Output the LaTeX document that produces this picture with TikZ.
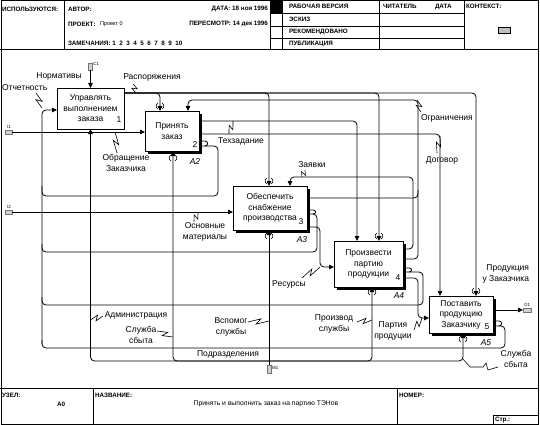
\documentclass[tikz,border=0pt]{standalone}
\usepackage{fontspec}
\setmainfont{Liberation Sans}
\usetikzlibrary{arrows.meta,calc,shadows}
\newcommand{\lblf}{\fontsize{8.5}{10.5}\selectfont}
\newcommand{\hdrf}{\fontsize{6.3}{7}\selectfont\bfseries}
\newcommand{\tinyf}{\fontsize{4.5}{5}\selectfont}
\newcommand{\tunmark}[2]{%
  \draw[line width=0.6pt] ({#1-2},{#2-3}) .. controls ({#1-4.5},{#2-1.5}) and ({#1-4.5},{#2+1.5}) .. ({#1-2},{#2+3});
  \draw[line width=0.6pt] ({#1+2},{#2-3}) .. controls ({#1+4.5},{#2-1.5}) and ({#1+4.5},{#2+1.5}) .. ({#1+2},{#2+3});}
\newcommand{\ostub}[3]{\draw[line width=0.8pt] (#1,#2) -- ({#1+3},#2) .. controls ({#1+6.5},#2) and ({#1+6.5},#3) .. ({#1+3},#3);}
\newcommand{\zzz}[2]{\draw[zz] (#1) -- ($(#1)!0.62!(#2)!2.5pt!90:(#2)$) -- ($(#1)!0.38!(#2)!2.5pt!-90:(#2)$) -- (#2);}
\begin{document}
\begin{tikzpicture}[x=1pt,y=-1pt,
 every node/.style={inner sep=0pt,outer sep=0pt},
 ln/.style={line width=0.8pt},
 arr/.style={line width=0.8pt,-{Triangle[length=5pt,width=4.5pt]}},
 conn/.style={rounded corners=4pt},
 act/.style={draw,line width=0.8pt,fill=white,align=center,font=\lblf},
 shad/.style={act,drop shadow={shadow xshift=3pt,shadow yshift=-3pt,fill=black,opacity=1}},
 lab/.style={font=\lblf,align=center},
 hdr/.style={font=\hdrf,anchor=west},
 tun/.style={draw=black!55,fill=black!18,line width=0.5pt},
 tl/.style={font=\tinyf},
 zz/.style={line width=0.6pt},
 num/.style={font=\lblf},
 nodeid/.style={font=\lblf\itshape}]
\useasboundingbox (0,0) rectangle (540,425);
% frame
\draw[line width=0.9pt] (1,0.5) rectangle (538,424);
% header
\draw[ln] (0,49) -- (538,49);
\draw[ln] (64,0) -- (64,49);
\draw[ln] (270,0) -- (270,49);
\fill (270,0) rectangle (282,13);
\draw[ln] (282,0) -- (282,49);
\draw[ln] (379,0) -- (379,49);
\draw[ln] (464,0) -- (464,49);
\foreach \yy in {13,26,38} \draw[ln] (270,\yy) -- (464,\yy);
\draw[line width=0.6pt,fill=black!25] (498,27) rectangle (510,33);
\node[hdr] (h1) at (2,9) {ИСПОЛЬЗУЮТСЯ:};
\node[hdr] (h2) at (68,9) {АВТОР:};
\node[hdr,anchor=east] (h3) at (268,9) {ДАТА: 18 ноя 1996};
\node[hdr] (h4) at (68,24) {ПРОЕКТ:};
\node[hdr,font=\fontsize{5.5}{6}\selectfont] (h5) at (100,24) {Проект 0};
\node[hdr,anchor=east] (h6) at (268,24) {ПЕРЕСМОТР: 14 дек 1996};
\node[hdr] (h7) at (68,43) {ЗАМЕЧАНИЯ: 1 \ 2 \ 3 \ 4 \ 5 \ 6 \ 7 \ 8 \ 9 \ 10};
\node[hdr] (h8) at (289,6.5) {РАБОЧАЯ ВЕРСИЯ};
\node[hdr] (h9) at (289,19.5) {ЭСКИЗ};
\node[hdr] (h10) at (289,32) {РЕКОМЕНДОВАНО};
\node[hdr] (h11) at (289,43.5) {ПУБЛИКАЦИЯ};
\node[hdr] (h12) at (383,6.5) {ЧИТАТЕЛЬ};
\node[hdr] (h13) at (435,6.5) {ДАТА};
\node[hdr] (h14) at (466,6.5) {КОНТЕКСТ:};
% footer
\draw[ln] (0,388) -- (538,388);
\draw[ln] (93,388) -- (93,424);
\draw[ln] (397,388) -- (397,424);
\draw[ln] (493,415) rectangle (538,424);
\node[hdr] (f1) at (2,395) {УЗЕЛ:};
\node[hdr] (f2) at (57,404) {А0};
\node[hdr] (f3) at (95,395) {НАЗВАНИЕ:};
\node[font=\fontsize{6.8}{7}\selectfont] (f4) at (266,404) {Принять и выполнить заказ на партию ТЭНов};
\node[hdr] (f5) at (399,395) {НОМЕР:};
\node[hdr] (f6) at (495,419.5) {Стр.:};
% activity boxes
\node[act,minimum width=67pt,minimum height=41pt] (b1) at (90.5,108.5) {Управлять\\выполнением\\заказа};
\node[shad,minimum width=54pt,minimum height=40pt] (b2) at (172,131) {Принять\\заказ};
\node[shad,minimum width=74pt,minimum height=44pt] (b3) at (270,208) {Обеспечить\\снабжение\\производства};
\node[shad,minimum width=69pt,minimum height=46pt] (b4) at (368.5,264) {Произвести\\партию\\продукции};
\node[shad,minimum width=64pt,minimum height=37pt] (b5) at (461,314.5) {Поставить\\продукцию\\Заказчику};
\node[num] (n1) at (119,120) {1};
\node[num] (n2) at (195,145) {2};
\node[num] (n3) at (301,222) {3};
\node[num] (n4) at (398,278) {4};
\node[num] (n5) at (487,327) {5};
\node[nodeid] (a2) at (195,162) {A2};
\node[nodeid] (a3) at (302,240) {A3};
\node[nodeid] (a4) at (399,296) {A4};
\node[nodeid] (a5) at (486,343) {A5};
% boundary tunnels
\node[tun,minimum width=4pt,minimum height=7pt] (C1) at (90.5,66.5) {};
\node[tl,anchor=west] (C1l) at (93,63.5) {C1};
\node[tun,minimum width=7pt,minimum height=3.5pt] (I1) at (8.5,132) {};
\node[tl] (I1l) at (9,127) {I1};
\node[tun,minimum width=7pt,minimum height=3.5pt] (I2) at (8.5,212) {};
\node[tl] (I2l) at (9,207) {I2};
\node[tun,minimum width=8pt,minimum height=3.5pt] (O1) at (527,310) {};
\node[tl] (O1l) at (527,305) {O1};
\node[tun,minimum width=4pt,minimum height=8pt] (M1) at (269,369) {};
\node[tl,anchor=west] (M1l) at (272,368) {M1};
% coordinates
\coordinate (r0) at (b1.east |- 0,93);
\coordinate (bus) at (269,361);
% controls / inputs from boundary
\draw[arr] (C1.south) -- (C1.south |- b1.north);
\draw[arr] (I1.east) -- (I1.east -| b2.west);
\draw[arr] (I2.east) -- (I2.east -| b3.west);
% Распоряжения
\draw[arr,conn] (r0) -| (b5.north -| 476,0);
\draw[arr,conn] (r0) -| (b2.north -| 160,0);
\draw[arr,conn] (r0) -| (b3.north -| 269,0);
\draw[arr,conn] (r0) -| (b4.north -| 379,0);
% outputs of box 2
\draw[arr,conn] (b2.east |- 0,121) -| (b4.north -| 357,0);
\draw[arr,conn] (b2.east |- 0,134) -| (b5.north -| 440,0);
\draw[ln,conn] (b2.east |- 0,146) -| (218,196) -| (42,186);
\ostub{202}{141}{146}
% outputs of box 3
\draw[ln,conn] (b3.east |- 0,198) -| (418,190);
\draw[ln,conn] (b3.east |- 0,214) -| (317,252) -| (42,244);
\ostub{310}{210}{214}
\draw[arr,conn] (b3.east |- 0,227) -| (320,267) -- (b4.west |- 0,267);
% outputs of box 4
\draw[arr,conn] (b4.east |- 0,259) -| (418,100) -| (b2.north -| 188,0);
\draw[arr,conn] (b4.east |- 0,249) -| (413,177) -| (b3.north -| 290,0);
\draw[ln,conn] (b4.east |- 0,272) -| (423,305) -| (42,297);
\ostub{406}{268}{272}
\draw[arr,conn] (b4.east |- 0,278) -| (418,318) -- (b5.west |- 0,318);
% outputs of box 5
\draw[arr] (b5.east |- O1) -- (O1.west);
\draw[ln,conn] (b5.east |- 0,326) -| (505,348) -| (42,340);
\ostub{496}{321}{326}
% feedback into box 1
\draw[arr,conn] (42,344) |- (b1.west |- 0,110);
% mechanisms
\draw[arr] (M1.north) -- (M1.north |- b3.south);
\draw[arr,conn] (bus) -| (b1.south);
\draw[arr,conn] (bus) -| (b2.south -| 173,0);
\draw[arr,conn] (bus) -| (b4.south -| 372,0);
\draw[arr,conn] (bus) -| (b5.south -| 463,0);
% tunnel marks
\tunmark{160}{106}
\tunmark{269}{181}
\tunmark{379}{236}
\tunmark{476}{291}
\tunmark{173}{158}
\tunmark{269}{236}
\tunmark{372}{292}
\tunmark{463}{339}
% labels
\node[lab] (L1) at (59,76) {Нормативы};
\node[lab,anchor=west] (L2) at (2,88) {Отчетность};
\node[lab] (L3) at (152,77) {Распоряжения};
\node[lab] (L4) at (126,163) {Обращение\\Заказчика};
\node[lab] (L5) at (241,141) {Техзадание};
\node[lab] (L6) at (442,160) {Договор};
\node[lab,anchor=west] (L7) at (421,118) {Ограничения};
\node[lab] (L8) at (205,232) {Основные\\материалы};
\node[lab] (L9) at (312,165) {Заявки};
\node[lab] (L10) at (289,284) {Ресурсы};
\node[lab] (L11) at (393,331) {Партия\\продуции};
\node[lab,align=right,anchor=east] (L12) at (529,274) {Продукция\\у Заказчика};
\node[lab] (L13) at (136,315) {Администрация};
\node[lab] (L14) at (141,335) {Служба\\сбыта};
\node[lab] (L15) at (231,327) {Вспомог\\службы};
\node[lab] (L16) at (334,324) {Производ\\службы};
\node[lab] (L17) at (228,354) {Подразделения};
\node[lab] (L18) at (516,359) {Служба\\сбыта};
% squiggles
\zzz{36,93}{42,108}
\zzz{133,84}{136,93}
\zzz{115,132}{117,153}
\zzz{233,121}{229,134}
\zzz{440,136}{437,153}
\zzz{417,100}{421,112}
\zzz{198,212}{194,222}
\zzz{302,177}{305,170}
\zzz{320,267}{302,278}
\zzz{422,318}{414,330}
\zzz{90.5,320}{103,316}
\zzz{173,337}{157,331}
\zzz{269,321}{248,322}
\zzz{372,320}{357,322}
\draw[zz] (463,359) -- (470,367) -- (483,367) -- (486,363) -- (488,370) -- (498,367);
\end{tikzpicture}
\end{document}
